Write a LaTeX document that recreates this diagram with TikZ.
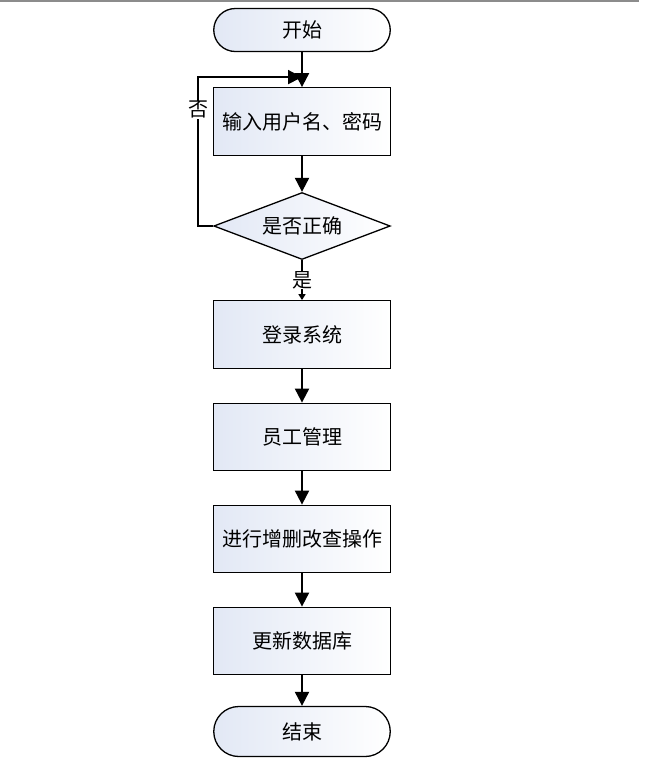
\documentclass[tikz,border=0pt]{standalone}
\usepackage{fontspec}
\setmainfont{Noto Sans CJK SC}
\usetikzlibrary{arrows.meta}
\usetikzlibrary{positioning}
\usetikzlibrary{shapes.geometric}
\definecolor{flowfill}{RGB}{226,232,245}

\begin{document}
\begin{tikzpicture}[
		x=1pt,y=1pt,
		>={Triangle[width=14pt,length=14pt]},
		every node/.style={font=\fontsize{20}{23}\selectfont},
		shadefill/.style={left color=flowfill,right color=white},
		procbox/.style={draw=black,line width=1.3pt,shadefill,minimum width=176.5pt,minimum height=67.5pt,inner sep=0},
		termbox/.style={procbox,rounded corners=#1,minimum height=2*#1},
		decision/.style={diamond,aspect=2.6,draw=black,line width=1.3pt,shadefill,minimum width=176.5pt,minimum height=67pt,inner sep=0},
		flowline/.style={->,line width=2pt},
		flowlabel/.style={fill=white,inner sep=0.5pt}
	]
	\useasboundingbox (0,0) rectangle (664,-772);
	\draw [gray!90,line width=2pt] (0,-1) -- (639,-1);

	\node [termbox=21.5pt] (start) at (302,-30) {开始};
	\node [procbox] (input) at (302,-121.5) {输入用户名、密码};
	\node [decision] (check) at (302,-226) {是否正确};
	\node [procbox] (login) at (302,-334.5) {登录系统};
	\node [procbox] (staff) at (302,-437) {员工管理};
	\node [procbox] (crud) at (302,-539) {进行增删改查操作};
	\node [procbox] (update) at (302,-641) {更新数据库};
	\node [termbox=25pt] (finish) at (302,-731.5) {结束};

	\coordinate (join) at ([yshift=10pt]input.north);

	\draw [flowline] (start) -- (input);
	\draw [flowline] (input) -- (check);
	\draw [flowline] (check.west) -- ++(-15,0) |- node [flowlabel,pos=0.39] {否} (join);
	\draw [line width=2pt,-{Triangle[width=7pt,length=6pt]}] (check) -- node [flowlabel] {是} (login);
	\draw [flowline] (login) -- (staff);
	\draw [flowline] (staff) -- (crud);
	\draw [flowline] (crud) -- (update);
	\draw [flowline] (update) -- (finish);
\end{tikzpicture}
\end{document}
